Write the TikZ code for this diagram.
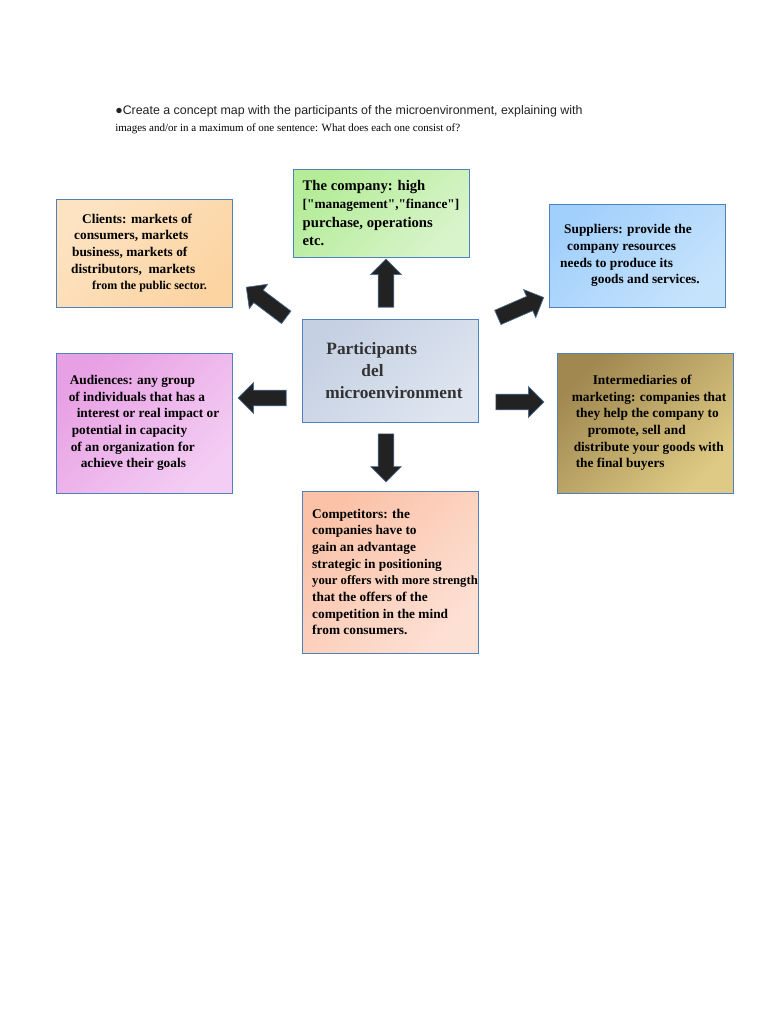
\documentclass[tikz,border=0pt]{standalone}
\usepackage{fontspec}
\setmainfont{Liberation Serif}
\newfontfamily\rawserif{Liberation Serif}
\newfontfamily\arialfont{Liberation Sans}
\usetikzlibrary{positioning, shapes.arrows, calc}

\definecolor{boxblue}{HTML}{4F81BD}
\definecolor{arrowfill}{HTML}{222222}
\definecolor{arrowline}{HTML}{4A6C94}
\definecolor{titlegrey}{HTML}{222222}
\definecolor{centertext}{HTML}{333333}
\definecolor{clientsA}{HTML}{FDE3C2}
\definecolor{clientsB}{HTML}{FCD4A2}
\definecolor{companyA}{HTML}{B4EC98}
\definecolor{companyB}{HTML}{D8F4CA}
\definecolor{suppliersA}{HTML}{A2D0FC}
\definecolor{suppliersB}{HTML}{C6E3FC}
\definecolor{audiencesA}{HTML}{E8A0E4}
\definecolor{audiencesB}{HTML}{F3CDF3}
\definecolor{centerA}{HTML}{C5D0E2}
\definecolor{centerB}{HTML}{DEE5F0}
\definecolor{intermA}{HTML}{A08850}
\definecolor{intermB}{HTML}{DECA84}
\definecolor{competA}{HTML}{FBC2A8}
\definecolor{competB}{HTML}{FDE0D4}

\begin{document}
\begin{tikzpicture}[
    conceptbox/.style={draw=boxblue, line width=0.75pt, minimum width=132pt, align=left,
        inner sep=2pt, font=\bfseries\fontsize{10}{12.5}\selectfont},
    gradient/.style 2 args={top color=#1, bottom color=#2, shading angle=45},
    blockarrow/.style={single arrow, draw=arrowline, fill=arrowfill, line width=0.5pt,
        minimum height=36pt, inner xsep=0pt, inner ysep=5.6pt, single arrow head extend=5.6pt,
        anchor=tail}
]
    \useasboundingbox (0,0) rectangle (576pt,-768pt);
    \fill[white] (0,0) rectangle (576pt,-768pt);

    \node[anchor=base west, inner sep=0pt, text=titlegrey, font=\arialfont\fontsize{9.3}{11}\selectfont] (task) at (86.25pt,-85.5pt)
        {●Create a concept map with the participants of the microenvironment, explaining with};
    \node[anchor=base west, inner sep=0pt, font=\fontsize{8.26}{10}\selectfont] (hint) at (86.25pt,-99pt)
        {images and/or in a maximum of one sentence: What does each one consist of?};

    \node[conceptbox, gradient={centerA}{centerB}, minimum height=77.25pt, text=centertext,
        font=\bfseries\fontsize{13}{16.5}\selectfont] (center) at (292.5pt,-277.9pt)
        {\hspace*{6.75pt}Participants\\ \hspace*{33pt}del\\ \hspace*{6pt}microenvironment};

    \node[conceptbox, gradient={companyA}{companyB}, minimum height=66pt,
        font=\bfseries\fontsize{11}{13.75}\selectfont, above=45.75pt of center, xshift=-6.75pt] (company)
        {The company: high\\ {\rawserif\bfseries\fontsize{10}{13.75}\selectfont ["management","finance"]\hspace*{7.5pt}}\\
         purchase, operations\\ etc.};

    \node[conceptbox, gradient={competA}{competB}, minimum height=121.5pt, inner xsep=0pt, below=51pt of center] (competitors)
        {\hspace*{7.5pt}Competitors: the\\ \hspace*{7.5pt}companies have to\\ \hspace*{7.5pt}gain an advantage\\
         \hspace*{7.5pt}strategic in positioning\\
         \hspace*{7.5pt}{\fontsize{9.5}{12.5}\selectfont your offers with more strength}\\ \hspace*{7.5pt}that the offers of the\\
         \hspace*{7.5pt}competition in the mind\\ \hspace*{7.5pt}from consumers.};

    \node[conceptbox, gradient={audiencesA}{audiencesB}, minimum height=105pt,
        left=51.75pt of center, yshift=-39.4pt] (audiences)
        {\hspace*{0.75pt}Audiences: any group\\ of individuals that has a\\ \hspace*{6pt}interest or real impact or\\
         \hspace*{2.25pt}potential in capacity\\ \hspace*{1.5pt}of an organization for\\ \hspace*{9pt}achieve their goals};

    \node[conceptbox, gradient={clientsA}{clientsB}, minimum height=81pt, above=33.75pt of audiences] (clients)
        {\hspace*{8.25pt}Clients: markets of\\ \hspace*{2.25pt}consumers, markets\\ \hspace*{0.75pt}business, markets of\\
         distributors,\ \ markets\\ \hspace*{15.75pt}{\fontsize{9}{12.5}\selectfont from the public sector.}\hspace*{7.5pt}};

    \node[conceptbox, gradient={intermA}{intermB}, minimum height=105pt,
        right=58.5pt of center, yshift=-39.4pt] (intermediaries)
        {\hspace*{21.75pt}Intermediaries of\\ \hspace*{6pt}marketing: companies that\\ \hspace*{9pt}they help the company to\\
         \hspace*{18pt}promote, sell and\\ \hspace*{7.5pt}distribute your goods with\\ \hspace*{9pt}the final buyers};

    \node[conceptbox, gradient={suppliersA}{suppliersB}, minimum height=77.25pt,
        above=33.75pt of intermediaries, xshift=-6pt] (suppliers)
        {\hspace*{3pt}Suppliers: provide the\\ \hspace*{5.25pt}company resources\\ needs to produce its\\
         \hspace*{23.25pt}goods and services.\hspace*{10.5pt}};

    % block arrows from the centre
    \node[blockarrow, rotate=90] (toCompany) at ($(center.north)+(-3pt,8.25pt)$) {};
    \node[blockarrow, rotate=-90] (toCompetitors) at ($(center.south)+(-3pt,-8.25pt)$) {};
    \node[blockarrow, rotate=180] (toAudiences) at ($(center.west)+(-11.25pt,-20.6pt)$) {};
    \node[blockarrow] (toIntermediaries) at ($(center.east)+(12.75pt,-23.6pt)$) {};
    \node[blockarrow, rotate=143, minimum height=37.5pt] (toClients) at ($(center.north west)+(-11.25pt,0.75pt)$) {};
    \node[blockarrow, rotate=23.5, minimum height=37.5pt] (toSuppliers) at ($(center.north east)+(14.25pt,0.75pt)$) {};
\end{tikzpicture}
\end{document}
